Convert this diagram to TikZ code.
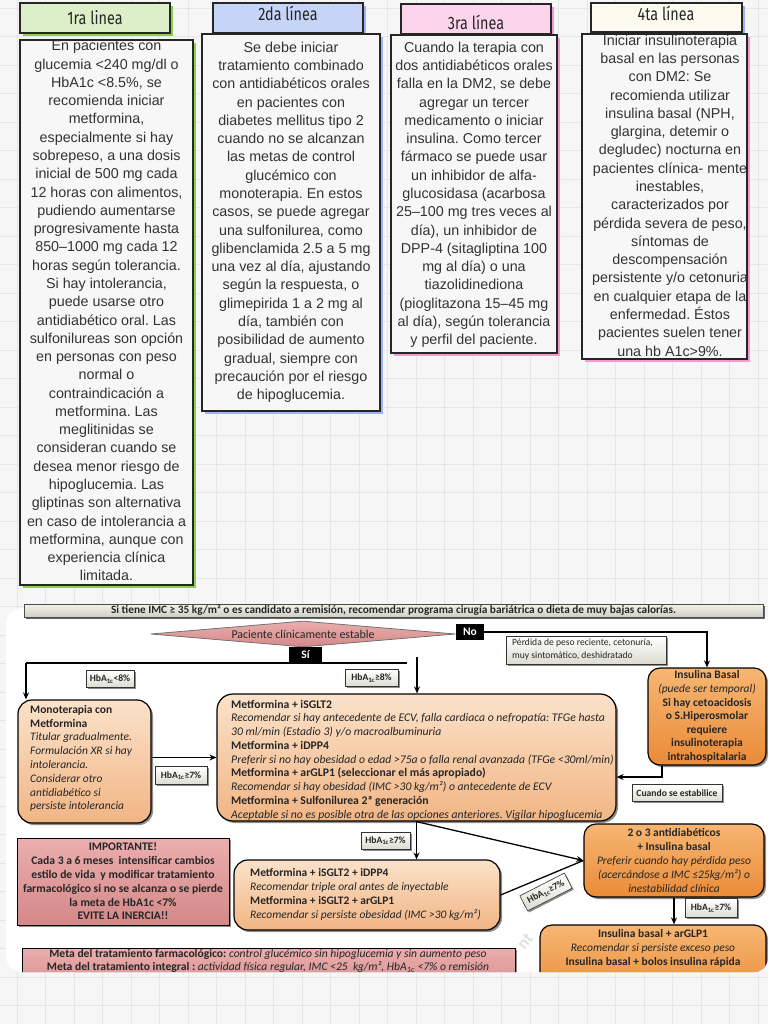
\documentclass[tikz,border=0pt]{standalone}
\usepackage{fontspec}
\usepackage{graphicx}
\setmainfont{Liberation Sans}
\newfontfamily\carl{Carlito}
\newfontfamily\hand{Fira Sans}
\usetikzlibrary{shapes.geometric,arrows.meta,shadows}
\definecolor{bgc}{HTML}{F6F6F6}
\definecolor{gridc}{HTML}{E6E6E6}
\definecolor{boxfill}{HTML}{F7F7F7}
\definecolor{txt}{HTML}{333333}
\definecolor{sgreen}{HTML}{8CCF4E}
\definecolor{hgreen}{HTML}{DCEFC8}
\definecolor{sblue}{HTML}{9DB3F5}
\definecolor{hblue}{HTML}{C6D4F8}
\definecolor{spink}{HTML}{F59AD0}
\definecolor{hpink}{HTML}{FCD5EC}
\definecolor{hcream}{HTML}{FBFBF0}
\definecolor{peachT}{HTML}{FBE2CA}
\definecolor{peachB}{HTML}{F1B584}
\definecolor{orT}{HTML}{F7B673}
\definecolor{orB}{HTML}{EA8B38}
\definecolor{pinkT}{HTML}{EBAEAE}
\definecolor{pinkB}{HTML}{D48888}
\definecolor{lblB}{HTML}{DCDCD2}
\definecolor{barT}{HTML}{F2F2EC}
\definecolor{barB}{HTML}{CFCFC5}
\frenchspacing
\tikzset{
  gridln/.style={draw=gridc, line width=0.7pt},
  tbox/.style={draw=black!85, line width=1.5pt, fill=boxfill, inner sep=0pt},
  ttxt/.style={font=\fontsize{14.3}{18.28}\selectfont, text=txt, align=center, inner sep=0pt, anchor=north},
  hdr/.style={font=\hand\fontsize{18}{20}\selectfont, text=black!85, inner sep=0pt},
  fshadow/.style={drop shadow={shadow xshift=2pt, shadow yshift=-2pt, fill=black, opacity=0.45}},
  pbox/.style={draw=black, line width=1.2pt, rounded corners=14pt, top color=peachT, bottom color=peachB, fshadow, inner sep=0pt, text=black!85},
  obox/.style={draw=black, line width=1.2pt, rounded corners=12pt, top color=orT, bottom color=orB, fshadow, inner sep=0pt, text=black!85},
  kbox/.style={draw=black, line width=1pt, top color=pinkT, bottom color=pinkB, fshadow, inner sep=0pt, text=black!85},
  lbl/.style={draw=black!80, line width=0.6pt, top color=white, bottom color=lblB, drop shadow={shadow xshift=1.5pt, shadow yshift=-1.5pt, fill=black, opacity=0.45}, inner sep=0pt, font=\carl\bfseries\fontsize{9.6}{11}\selectfont, text=black!85},
  ftxt/.style={font=\carl\fontsize{11.5}{13.8}\selectfont, text=black!85},
  ltxt/.style={ftxt, align=left, anchor=north west, inner sep=0pt},
  blk/.style={fill=black, text=white, font=\carl\bfseries\fontsize{11.5}{13}\selectfont, inner sep=0pt},
  arr/.style={-{Stealth[length=7pt,width=6pt]}, line width=1.3pt, draw=black},
  cn/.style={line width=1.3pt, draw=black},
}
\begin{document}
\begin{tikzpicture}[x=1pt,y=-1pt]
\useasboundingbox (0,0) rectangle (768,1024);
\fill[bgc] (0,0) rectangle (768,1024);
\foreach \i in {0,...,27} \draw[gridln] ({17+28.5*\i},0) -- ({17+28.5*\i},1024);
\foreach \j in {0,...,36} \draw[gridln] (0,{8+28.5*\j}) -- (768,{8+28.5*\j});

% ---------- top columns ----------
\node[tbox, fill=hgreen, general shadow={fill=sgreen, shadow xshift=3pt, shadow yshift=-3pt}, minimum width=150pt, minimum height=30pt] (h1) at (95,18) {};
\node[hdr] (h1t) at (95,18) {\scalebox{0.8}[1]{1ra linea}};
\node[tbox, general shadow={fill=sgreen, shadow xshift=3pt, shadow yshift=-3pt}, minimum width=173pt, minimum height=545pt] (b1) at (106.5,312.5) {};
\node[ttxt] (t1) at (106.5,37.8) {\strut En pacientes con\\ glucemia <240 mg/dl o\\ HbA1c <8.5\%, se\\ recomienda iniciar\\ metformina,\\ especialmente si hay\\ sobrepeso, a una dosis\\ inicial de 500 mg cada\\ 12 horas con alimentos,\\ pudiendo aumentarse\\ progresivamente hasta\\ 850–1000 mg cada 12\\ horas según tolerancia.\\ Si hay intolerancia,\\ puede usarse otro\\ antidiabético oral. Las\\ sulfonilureas son opción\\ en personas con peso\\ normal o\\ contraindicación a\\ metformina. Las\\ meglitinidas se\\ consideran cuando se\\ desea menor riesgo de\\ hipoglucemia. Las\\ gliptinas son alternativa\\ en caso de intolerancia a\\ metformina, aunque con\\ experiencia clínica\\ limitada.};

\node[tbox, fill=hblue, general shadow={fill=sblue, shadow xshift=3pt, shadow yshift=-3pt}, minimum width=150pt, minimum height=30pt] (h2) at (288,18) {};
\node[hdr] (h2t) at (288,13) {\scalebox{0.8}[1]{2da línea}};
\node[tbox, general shadow={fill=sblue, shadow xshift=3pt, shadow yshift=-3pt}, minimum width=178pt, minimum height=377pt] (b2) at (291,222.5) {};
\node[ttxt] (t2) at (291,39.3) {\strut Se debe iniciar\\ tratamiento combinado\\ con antidiabéticos orales\\ en pacientes con\\ diabetes mellitus tipo 2\\ cuando no se alcanzan\\ las metas de control\\ glucémico con\\ monoterapia. En estos\\ casos, se puede agregar\\ una sulfonilurea, como\\ glibenclamida 2.5 a 5 mg\\ una vez al día, ajustando\\ según la respuesta, o\\ glimepirida 1 a 2 mg al\\ día, también con\\ posibilidad de aumento\\ gradual, siempre con\\ precaución por el riesgo\\ de hipoglucemia.};

\node[tbox, fill=hpink, general shadow={fill=spink, shadow xshift=3pt, shadow yshift=-3pt}, minimum width=150pt, minimum height=30pt] (h3) at (476,19) {};
\node[hdr] (h3t) at (476,22) {\scalebox{0.8}[1]{3ra línea}};
\node[tbox, general shadow={fill=spink, shadow xshift=3pt, shadow yshift=-3pt}, minimum width=166pt, minimum height=318pt] (b3) at (474,194) {};
\node[ttxt] (t3) at (474,39.3) {\strut Cuando la terapia con\\ dos antidiabéticos orales\\ falla en la DM2, se debe\\ agregar un tercer\\ medicamento o iniciar\\ insulina. Como tercer\\ fármaco se puede usar\\ un inhibidor de alfa-\\ glucosidasa (acarbosa\\ 25–100 mg tres veces al\\ día), un inhibidor de\\ DPP-4 (sitagliptina 100\\ mg al día) o una\\ tiazolidinediona\\ (pioglitazona 15–45 mg\\ al día), según tolerancia\\ y perfil del paciente.};

\node[tbox, fill=hcream, general shadow={fill=sblue, shadow xshift=3pt, shadow yshift=-3pt}, minimum width=151pt, minimum height=29pt] (h4) at (666.5,17.5) {};
\node[hdr] (h4t) at (666,13) {\scalebox{0.8}[1]{4ta línea}};
\node[tbox, general shadow={fill=spink, shadow xshift=3pt, shadow yshift=-3pt}, minimum width=165pt, minimum height=325pt] (b4) at (664.5,196.5) {};
\node[ttxt] (t4) at (670,32.3) {\strut Iniciar insulinoterapia\\ basal en las personas\\ con DM2: Se\\ recomienda utilizar\\ insulina basal (NPH,\\ glargina, detemir o\\ degludec) nocturna en\\ pacientes clínica- mente\\ inestables,\\ caracterizados por\\ pérdida severa de peso,\\ síntomas de\\ descompensación\\ persistente y/o cetonuria\\ en cualquier etapa de la\\ enfermedad. Éstos\\ pacientes suelen tener\\ una hb A1c>9\%.};

% ---------- flowchart ----------
\fill[white, rounded corners=16pt] (6,608) rectangle (768,972);
\node[draw=black!70, line width=0.8pt, top color=barT, bottom color=barB, drop shadow={shadow xshift=1.5pt, shadow yshift=-1.5pt, fill=black, opacity=0.6}, minimum width=739pt, minimum height=13pt, inner sep=0pt, font=\carl\bfseries\fontsize{11.3}{12}\selectfont, text=black!85] (bar) at (393.5,610.5) {Si tiene IMC ≥ 35 kg/m² o es candidato a remisión, recomendar programa cirugía bariátrica o dieta de muy bajas calorías.};

\begin{scope}
\clip[rounded corners=14pt] (6,618) rectangle (768,972);

\node[diamond, draw=black!55, line width=0.8pt, top color=pinkT, bottom color=pinkB, minimum width=305pt, minimum height=26pt, inner sep=0pt, shape aspect=11.7, font=\carl\fontsize{11.9}{13}\selectfont, text=black!85] (dia) at (303,634) {Paciente clínicamente estable};
\node[blk, minimum width=28pt, minimum height=16pt] (no) at (470,632) {No};
\node[blk, minimum width=33pt, minimum height=16pt] (si) at (305.5,655) {Sí};

\coordinate (sl) at (26,663);
\coordinate (sr) at (407,663);
\draw[cn] (sl) -- (sr);

\node[pbox, minimum height=123pt, minimum width=133pt] (mono) at (84.5,761.5) {};
\node[ltxt] (monot) at (30,703.4) {\strut\textbf{Monoterapia con}\\ \textbf{Metformina}\\ \textit{Titular gradualmente.}\\ \textit{Formulación XR si hay}\\ \textit{intolerancia.}\\ \textit{Considerar otro}\\ \textit{antidiabético si}\\ \textit{persiste intolerancia}};

\node[pbox, rounded corners=16pt, minimum height=127pt, minimum width=399pt] (met) at (416.5,757.5) {};
\node[ltxt, font=\carl\fontsize{11.7}{13.75}\selectfont] (mett) at (231,698.4) {\strut\textbf{Metformina + iSGLT2}\\ \textit{Recomendar si hay antecedente de ECV, falla cardiaca o nefropatía: TFGe hasta}\\ \textit{30 ml/min (Estadio 3) y/o macroalbuminuria}\\ \textbf{Metformina + iDPP4}\\ \textit{Preferir si no hay obesidad o edad >75a o falla renal avanzada (TFGe <30ml/min)}\\ \textbf{Metformina + arGLP1 (seleccionar el más apropiado)}\\ \textit{Recomendar si hay obesidad (IMC >30 kg/m²) o antecedente de ECV}\\ \textbf{Metformina + Sulfonilurea 2ª generación}\\ \textit{Aceptable si no es posible otra de las opciones anteriores. Vigilar hipoglucemia}};

\node[obox, ftxt, font=\carl\fontsize{11.5}{13.6}\selectfont, align=center, minimum width=118pt, minimum height=97pt] (ib) at (707,716.5) {\textbf{Insulina Basal}\\ \textit{(puede ser temporal)}\\ \textbf{Si hay cetoacidosis}\\ \textbf{o S.Hiperosmolar}\\ \textbf{requiere}\\ \textbf{insulinoterapia}\\ \textbf{intrahospitalaria}};

\node[draw=black!80, line width=0.6pt, top color=white, bottom color=lblB, drop shadow={shadow xshift=1.5pt, shadow yshift=-1.5pt, fill=black, opacity=0.45}, inner sep=0pt, minimum width=160pt, minimum height=28pt] (perd) at (586,650) {};
\node[ltxt, font=\carl\fontsize{9.6}{13}\selectfont] (perdt) at (512,636.4) {\strut Pérdida de peso reciente, cetonuría,\\ muy sintomático, deshidratado};

\node[obox, ftxt, align=center, minimum width=180pt, minimum height=73pt] (dos) at (674,860.5) {\textbf{2 o 3 antidiabéticos}\\ \textbf{+ Insulina basal}\\ \textit{Preferir cuando hay pérdida peso}\\ \textit{(acercándose a IMC ≤25kg/m²) o}\\ \textit{inestabilidad clínica}};

\node[pbox, minimum height=70pt, minimum width=266pt] (tri) at (367,895) {};
\node[ltxt, font=\carl\fontsize{11.5}{14}\selectfont] (trit) at (250,866.4) {\strut\textbf{Metformina + iSGLT2 + iDPP4}\\ \textit{Recomendar triple oral antes de inyectable}\\ \textbf{Metformina + iSGLT2 + arGLP1}\\ \textit{Recomendar si persiste obesidad (IMC >30 kg/m²)}};

\node[kbox, align=center, minimum width=212pt, minimum height=87pt, font=\carl\bfseries\fontsize{11.6}{13.8}\selectfont] (imp) at (123,881.5) {IMPORTANTE!\\ Cada 3 a 6 meses \ intensificar cambios\\ estilo de vida \ y modificar tratamiento\\ farmacológico si no se alcanza o se pierde\\ la meta de HbA1c <7\%\\ EVITE LA INERCIA!!};

\node[obox, minimum width=226pt, minimum height=75pt] (ins2) at (653,962.5) {};
\node[ftxt, align=center, anchor=north, inner sep=0pt] (ins2t) at (653,928) {\strut\textbf{Insulina basal + arGLP1}\\ \textit{Recomendar si persiste exceso peso}\\ \textbf{Insulina basal + bolos insulina rápida}};

\node[kbox, minimum width=493pt, minimum height=50pt] (meta) at (268.5,973) {};
\node[ftxt, font=\carl\fontsize{11.6}{13.4}\selectfont, align=center, anchor=north, inner sep=0pt] (metat) at (268,947.5) {\strut\textbf{Meta del tratamiento farmacológico:} \textit{control glucémico sin hipoglucemia y sin aumento peso}\\ \textbf{Meta del tratamiento integral :} \textit{actividad física regular, IMC <25 \ kg/m², HbA\textsubscript{1c} <7\% o remisión}};

\node[text=black!12, font=\carl\bfseries\fontsize{17}{17}\selectfont, rotate=50, inner sep=0pt] (wm) at (525,941) {nt};

% labels
\node[lbl, minimum width=48pt, minimum height=17pt] (l1) at (110,679) {HbA\textsubscript{1c}<8\%};
\node[lbl, minimum width=53pt, minimum height=17pt] (l2) at (371.5,678) {HbA\textsubscript{1c}≥8\%};
\node[lbl, minimum width=52pt, minimum height=18pt] (l3) at (181,775.5) {HbA\textsubscript{1c}≥7\%};
\node[lbl, minimum width=49pt, minimum height=17pt] (l4) at (385.5,840.5) {HbA\textsubscript{1c}≥7\%};
\node[lbl, minimum width=50pt, minimum height=17pt, rotate=27] (l5) at (546,892) {HbA\textsubscript{1c}≥7\%};
\node[lbl, minimum width=52pt, minimum height=19pt] (l6) at (711,908) {HbA\textsubscript{1c}≥7\%};
\node[lbl, minimum width=90pt, minimum height=17pt] (l7) at (677,793) {Cuando se estabilice};

% connectors
\draw[arr] (sl) -- (sl |- mono.north);
\coordinate (a8) at (417,657);
\draw[arr] (a8) -- (a8 |- met.north);
\draw[arr] (no.east) -- (no.east -| ib.north) -- (ib.north);
\coordinate (c1) at (662,777);
\draw[arr] (ib.south -| c1) -- (c1) -- (met.east |- c1);
\draw[arr] (mono.east |- met.west) -- (met.west);
\draw[arr] (met.south) -- (met.south |- tri.north);
\draw[arr] (met.south) -- (dos.west);
\draw[cn] (tri.east) -- (dos.west);
\draw[arr] (dos.south) -- (dos.south |- ins2.north);
\end{scope}
\end{tikzpicture}
\end{document}
